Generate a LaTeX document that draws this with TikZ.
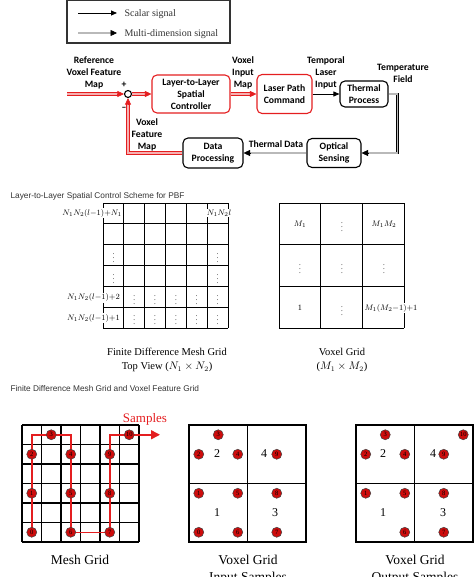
\documentclass[tikz,border=0pt]{standalone}
\usepackage{fontspec}
\setmainfont{Liberation Serif}
\newfontfamily\blkfont{Carlito}
\newfontfamily\capfont{Liberation Sans}
\usepackage{tikz}
\usetikzlibrary{arrows.meta,calc,backgrounds}
\definecolor{sigred}{RGB}{228,30,32}
\definecolor{dotred}{RGB}{205,12,12}
\tikzset{
  blk/.style    = {draw, line width=1.1pt, rounded corners=5pt, align=center, inner sep=1pt,
                   font=\blkfont\bfseries\fontsize{9.7}{12}\selectfont},
  rblk/.style   = {blk, draw=sigred},
  lbl/.style    = {align=center, font=\blkfont\bfseries\fontsize{9.7}{12}\selectfont},
  sumdot/.style = {circle, draw, line width=1.1pt, fill=white, inner sep=0pt, minimum size=7pt},
  scal/.style   = {-{Triangle[length=6pt,width=5pt]}, line width=.8pt},
  kdbl/.style   = {draw=black, double=gray!55, double distance=1.1pt, line width=.8pt, shorten >=5pt},
  rdbl/.style   = {draw=sigred, double=sigred!35, double distance=1.1pt, line width=1pt, shorten >=5pt},
  ktip/.style   = {-{Triangle[length=6.5pt,width=6pt]}, line width=.6pt},
  rtip/.style   = {ktip, sigred},
  legtxt/.style = {anchor=base west, font=\fontsize{10}{12}\selectfont, text=black!80},
  capline/.style= {anchor=base west, font=\capfont\fontsize{8.3}{10}\selectfont, text=black!80},
  gcap/.style   = {anchor=base, font=\fontsize{10.5}{12}\selectfont},
  bcap/.style   = {anchor=base, font=\fontsize{13.5}{16}\selectfont},
  gtxt/.style   = {font=\fontsize{8.2}{9}\selectfont, inner sep=1pt},
  vd/.style     = {font=\fontsize{7}{7}\selectfont, inner sep=0pt},
  gline/.style  = {line width=.9pt},
  bline/.style  = {line width=1.6pt},
  vline/.style  = {line width=1.9pt},
  vnum/.style   = {font=\fontsize{12}{14}\selectfont, inner sep=0pt},
  sdot/.style   = {circle, draw=black!75, fill=dotred, line width=.5pt, inner sep=0pt,
                   minimum size=10pt, text=black, font=\fontsize{6.5}{6.5}\selectfont},
  spath/.style  = {sigred, line width=1.5pt},
}

\begin{document}
\begin{tikzpicture}[x=1pt,y=-1pt]
  \useasboundingbox (0,0) rectangle (474,577);
  \clip (0,0) rectangle (474,577);

  \draw[line width=1.2pt, black!80] (67,0.5) rectangle (230,43);
  \coordinate (l1a) at (78,13);
  \coordinate (l1b) at (117,13);
  \coordinate (l2a) at (78,33);
  \coordinate (l2b) at (117,33);
  \draw[scal] (l1a) -- (l1b);
  \draw[kdbl] (l2a) -- (l2b);
  \draw[ktip] ([xshift=-6.5pt]l2b) -- (l2b);
  \node[legtxt] (leg1) at (121,16.5) {Scalar signal};
  \node[legtxt] (leg2) at (121,36.5) {Multi-dimension signal};

  \node[sumdot] (sum) at (128,94) {};
  \node[rblk, minimum width=78pt, minimum height=38pt] (ctrl) at (191,94)
       {Layer-to-Layer\\Spatial\\Controller};
  \node[rblk, minimum width=55pt, minimum height=39pt] (lpc) at (284.5,94)
       {Laser Path\\Command};
  \node[blk, minimum width=48pt, minimum height=26pt] (tp) at (364,94)
       {Thermal\\Process};
  \node[blk, minimum width=54pt, minimum height=29pt] (os) at (334,153)
       {Optical\\Sensing};
  \node[blk, minimum width=60pt, minimum height=30pt] (dp) at (213,153)
       {Data\\Processing};

  \node[lbl] (refl) at (94,73) {Reference\\Voxel Feature\\Map};
  \node[lbl, inner sep=0pt] (plus) at (124,85) {+};
  \node[lbl, inner sep=0pt] (minus) at (124,109) {\textendash};
  \node[lbl] (vim) at (243,73) {Voxel\\Input\\Map};
  \node[lbl] (tli) at (326,73) {Temporal\\Laser\\Input};
  \node[lbl] (tfl) at (403,73) {Temperature\\Field};
  \node[lbl] (tdl) at (276,144) {Thermal Data};
  \node[lbl] (vfm) at (147,134.5) {Voxel\\Feature\\Map};

  \coordinate (refin) at (67,94);
  \draw[rdbl] (refin) -- (sum.west);
  \draw[rtip] ([xshift=-6.5pt]sum.west) -- (sum.west);
  \draw[rdbl] (sum.east) -- (ctrl.west);
  \draw[rtip] ([xshift=-6.5pt]ctrl.west) -- (ctrl.west);
  \draw[rdbl] (ctrl.east) -- (lpc.west);
  \draw[rtip] ([xshift=-6.5pt]lpc.west) -- (lpc.west);
  \draw[scal] (lpc.east) -- (tp.west);
  \draw[kdbl] (tp.east) -- ++(9,0) |- (os.east);
  \draw[ktip] ([xshift=6.5pt]os.east) -- (os.east);
  \draw[kdbl] (os.west) -- (dp.east);
  \draw[ktip] ([xshift=6.5pt]dp.east) -- (dp.east);
  \draw[rdbl] (dp.west) -| (sum.south);
  \draw[rtip] ([yshift=-6.5pt]sum.south) -- (sum.south);

  \node[capline] (cap1) at (7,198) {Layer-to-Layer Spatial Control Scheme for PBF};

  \foreach \i in {0,...,6} {
    \draw[gline] ({103+\i*20.83},203) -- ({103+\i*20.83},328);
    \draw[gline] (103,{203+\i*20.83}) -- (228,{203+\i*20.83});
  }
  \node[gtxt, fill=white, anchor=east] (mlt) at (123,213) {$N_1N_2(l{-}1){+}N_1$};
  \node[gtxt, fill=white] (mrt) at (219,213) {$N_1N_2l$};
  \node[gtxt, fill=white, anchor=east] (ml2) at (121,297.5) {$N_1N_2(l{-}1){+}2$};
  \node[gtxt, fill=white, anchor=east] (ml1) at (121,318) {$N_1N_2(l{-}1){+}1$};
  \foreach \r in {2,3}
    \foreach \c in {0,5}
      \node[vd] (mv-\c-\r) at ({113.4+\c*20.83},{213.4+\r*20.83}) {$\vdots$};
  \foreach \r in {4,5}
    \foreach \c in {1,...,5}
      \node[vd] (mv-\c-\r) at ({113.4+\c*20.83},{213.4+\r*20.83}) {$\vdots$};
  \node[gcap] (mc1) at (167,355) {Finite Difference Mesh Grid};
  \node[gcap] (mc2) at (167,369.5) {Top View ($N_1\times N_2$)};

  \foreach \i in {0,...,3} {
    \draw[gline] ({279+\i*41.67},203) -- ({279+\i*41.67},328);
    \draw[gline] (279,{203+\i*41.67}) -- (404,{203+\i*41.67});
  }
  \node[gtxt] (v11) at (300,224.5) {$M_1$};
  \node[vd] (v12) at (342,224.5) {$\vdots$};
  \node[gtxt] (v13) at (384,224.5) {$M_1M_2$};
  \node[vd] (v21) at (300,266) {$\vdots$};
  \node[vd] (v22) at (342,266) {$\vdots$};
  \node[vd] (v23) at (384,266) {$\vdots$};
  \node[gtxt] (v31) at (300,308) {1};
  \node[vd] (v32) at (342,308) {$\vdots$};
  \node[gtxt, fill=white] (v33) at (391,308) {$M_1(M_2{-}1){+}1$};
  \node[gcap] (vc1) at (342,355) {Voxel Grid};
  \node[gcap] (vc2) at (342,369.5) {($M_1\times M_2$)};

  \node[capline] (cap2) at (7,391) {Finite Difference Mesh Grid and Voxel Feature Grid};

  \foreach \n/\c/\r in {0/0/0,1/0/2,2/0/4,3/1/5,4/2/4,5/2/2,6/2/0,7/4/0,8/4/2,9/4/4,10/5/5}
    \node[sdot] (md-\n) at ({22+(\c+.5)*19.5},{542-(\r+.5)*19.5}) {\n};
  \coordinate (sampend) at (160,434.75);
  \begin{scope}[on background layer]
    \foreach \i in {0,...,6} {
      \draw[bline] ({22+\i*19.5},425) -- ({22+\i*19.5},542);
      \draw[bline] (22,{425+\i*19.5}) -- (139,{425+\i*19.5});
    }
    \draw[spath, -{Triangle[length=9pt,width=9pt]}] (md-0.center) -- (md-2.center)
      |- (md-3.center) -| (md-6.center) -- (md-7.center) -- (md-9.center)
      |- (md-10.center) -- (sampend);
  \end{scope}
  \node[font=\fontsize{13}{15}\selectfont, text=sigred] (samp) at (145,419) {Samples};
  \node[bcap] (mgc) at (80,564.5) {Mesh Grid};

  \draw[vline] (189,425) rectangle (306,542);
  \draw[vline] (247.5,425) -- (247.5,542);
  \draw[vline] (189,483.5) -- (306,483.5);
  \foreach \n/\c/\r in {0/0/0,1/0/2,2/0/4,3/1/5,4/2/4,5/2/2,6/2/0,7/4/0,8/4/2,9/4/4}
    \node[sdot] (vi-\n) at ({189+(\c+.5)*19.5},{542-(\r+.5)*19.5}) {\n};
  \node[vnum] (vi-n2) at (217,454) {2};
  \node[vnum] (vi-n4) at (264,454) {4};
  \node[vnum] (vi-n1) at (217,513) {1};
  \node[vnum] (vi-n3) at (275,513) {3};
  \node[bcap] (vic1) at (248,564.5) {Voxel Grid};
  \node[bcap] (vic2) at (248,581.5) {Input Samples};

  \draw[vline] (356,425) rectangle (473,542);
  \draw[vline] (414.5,425) -- (414.5,542);
  \draw[vline] (356,483.5) -- (473,483.5);
  \foreach \n/\c/\r in {1/0/2,2/0/4,3/1/5,4/2/4,5/2/2,6/2/0,7/4/0,8/4/2,9/4/4,10/5/5}
    \node[sdot] (vo-\n) at ({356+(\c+.5)*19.5},{542-(\r+.5)*19.5}) {\n};
  \node[vnum] (vo-n2) at (383,454) {2};
  \node[vnum] (vo-n4) at (433,454) {4};
  \node[vnum] (vo-n1) at (383,513) {1};
  \node[vnum] (vo-n3) at (443,513) {3};
  \node[bcap] (voc1) at (415,564.5) {Voxel Grid};
  \node[bcap] (voc2) at (415,581.5) {Output Samples};
\end{tikzpicture}
\end{document}
